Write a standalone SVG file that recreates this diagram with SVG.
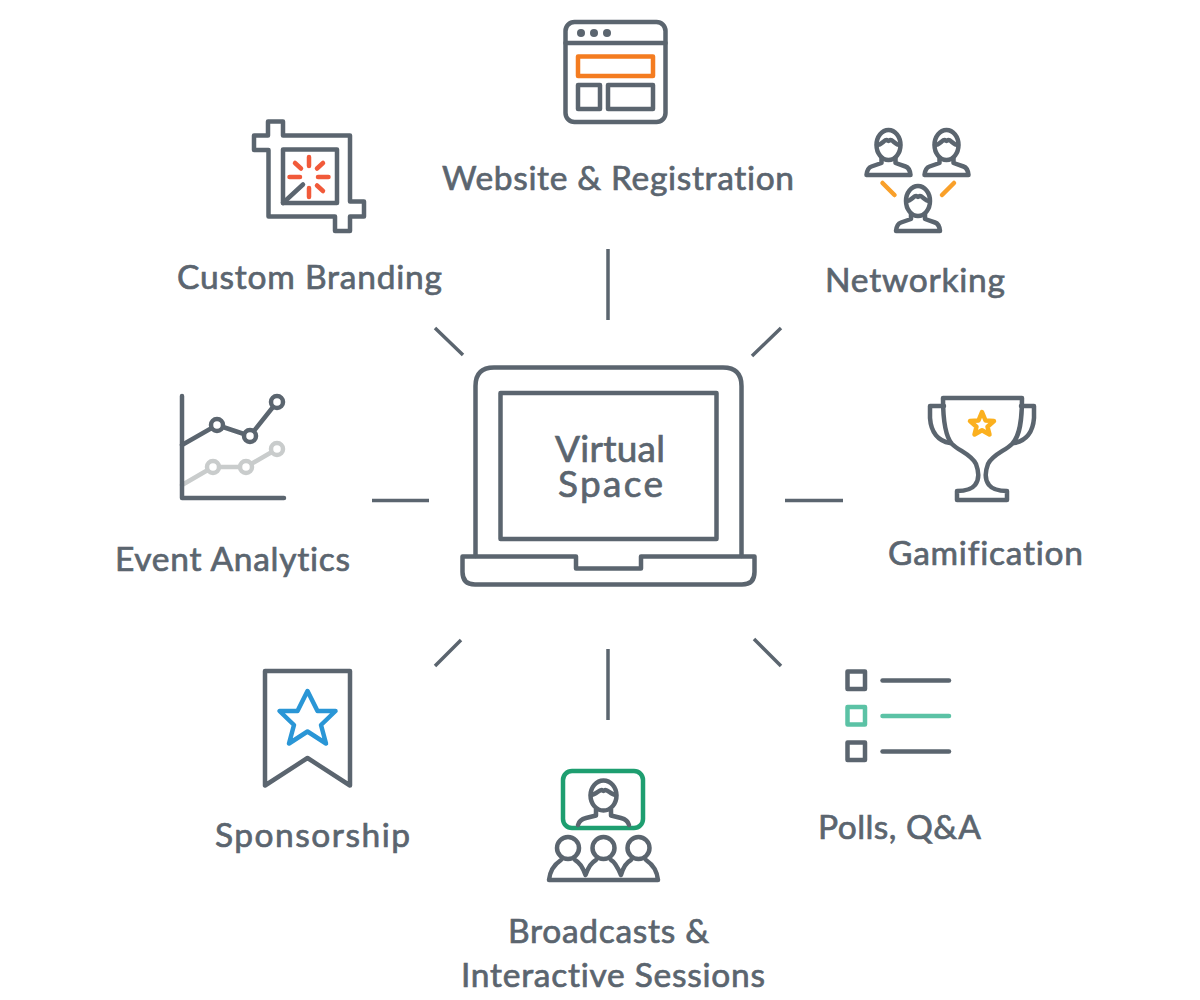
<svg xmlns="http://www.w3.org/2000/svg" width="1200" height="1000" viewBox="0 0 1200 1000">
<style>
.s{fill:none;stroke:#5b656f;stroke-width:4.5;stroke-linejoin:round;stroke-linecap:round}
.t{font-family:"Lato","Open Sans",sans-serif;font-size:33.5px;font-weight:400;fill:#5b656f;stroke:#5b656f;stroke-width:.7px;font-variant-ligatures:none}
.c{fill:none;stroke:#5b656f;stroke-width:3.5}
</style>
<defs>
<g id="person">
<ellipse cx="0" cy="0" rx="12" ry="15"/>
<path d="M-11.500 0C-7 0 -4.500 -5 -2 -5C-1 -5 -1 -4 0 -4C1 -4 1 -5 2 -5C4.500 -5 7 0 11.500 0"/>
<path d="M-7 13V18L-17 21.500C-20 22.500 -21.500 25 -22 30H22C21.500 25 20 22.500 17 21.500L7 18V13"/>
</g>
</defs>
<g id="connectors">
<path class="c" d="M608 249V320M435 328L463 355M781 328L752 356M372 500.500H429M785 500.500H843M435 666L461 640M781 666L754 639M608 649V720"/>
</g>
<g id="laptop">
<path class="s" d="M475.500 556V386Q475.500 367.500 494 367.500H723Q741.500 367.500 741.500 386V556"/>
<rect class="s" x="500.500" y="393" width="216" height="146"/>
<path class="s" d="M462.500 556.500H576V568.500H641V556.500H754.500V572Q754.500 584.500 742 584.500H475Q462.500 584.500 462.500 572Z"/>
<text class="t" style="font-size:37px"><tspan x="555" y="462" textLength="110">Virtual</tspan><tspan x="558" y="497" textLength="105">Space</tspan></text>
</g>
<g id="website">
<rect class="s" x="565.500" y="22" width="100" height="100" rx="9"/>
<path class="s" d="M565.500 43H665.500"/>
<circle cx="581" cy="33" r="4" fill="#5b656f"/><circle cx="594" cy="33" r="4" fill="#5b656f"/><circle cx="607" cy="33" r="4" fill="#5b656f"/>
<rect class="s" style="stroke:#f47c20" x="578" y="56.500" width="75" height="19.500"/>
<rect class="s" x="578" y="85" width="22" height="24"/>
<rect class="s" x="608" y="85" width="45" height="24"/>
<text class="t" x="442" y="190" textLength="352">Website &amp; Registration</text>
</g>
<g id="branding">
<path class="s" d="M268 121.500H283V135.500H350V201.500H364V216.500H350V231H335V216.500H268.500V150H254V135.500H268Z"/>
<rect class="s" x="283" y="149.500" width="54" height="53.500"/>
<path class="s" d="M283 203L303 184.500"/>
<path class="s" style="stroke:#f15a3a" d="M309 157V166M309 188V197M289.500 177H300M318 177H328.500M295 163L301 168.500M323 163L317 168.500M317 185.500L323 191"/>
<text class="t" x="177" y="289" textLength="265">Custom Branding</text>
</g>
<g id="networking">
<use class="s" href="#person" x="888.500" y="145"/>
<use class="s" href="#person" x="946.500" y="145"/>
<use class="s" href="#person" x="918" y="201"/>
<path class="s" style="stroke:#f9a02a" d="M882.500 183L894.500 195M954 183L942 195"/>
<text class="t" x="825" y="292" textLength="180">Networking</text>
</g>
<g id="gamification">
<path class="s" d="M943 398H1022C1022 420 1020 436 1012 444C1005 451 993 454 988 464C985 472 985 480 989 485C992 489 1000 491 1007 491V500H957V491C964 491 972 489 975 485C979 480 979 472 976 464C971 454 959 451 952 444C945 436 943 420 943 398Z"/>
<path class="s" d="M944 406H930V418C931 432 938 441 950 443M1021 406H1034V418C1033 432 1026 441 1014 443"/>
<polygon class="s" style="stroke:#fbb01e" points="982,412 985.500,420.500 994,421 987.500,426.700 989.500,434.500 982,430.300 974.500,434.500 976.500,426.700 970,421 978.500,420.500"/>
<text class="t" x="888" y="565" textLength="195">Gamification</text>
</g>
<g id="analytics">
<path class="s" d="M182 485L213 467H246L277 449" style="stroke:#c9cccc"/>
<circle class="s" style="stroke:#c9cccc;fill:#fff" cx="213" cy="467" r="6"/><circle class="s" style="stroke:#c9cccc;fill:#fff" cx="246" cy="467" r="6"/><circle class="s" style="stroke:#c9cccc;fill:#fff" cx="277" cy="449" r="6"/>
<path class="s" d="M182 396V498H284"/>
<path class="s" d="M182 445L217 425L250 436L277 402"/>
<circle class="s" style="fill:#fff" cx="217" cy="425" r="6"/><circle class="s" style="fill:#fff" cx="250" cy="436" r="6"/><circle class="s" style="fill:#fff" cx="277" cy="402" r="6"/>
<text class="t" x="115" y="571" textLength="235">Event Analytics</text>
</g>
<g id="sponsorship">
<path class="s" d="M265 671H350V785.500L307.500 758L265 785.500Z"/>
<polygon class="s" style="stroke:#2a96d6" points="307.500,691 317.500,711 335.500,711 321,725 326,743.500 307.500,731.500 289,743.500 294,725 279.500,711 297.500,711"/>
<text class="t" x="215" y="847" textLength="195">Sponsorship</text>
</g>
<g id="broadcasts">
<rect class="s" style="stroke:#1e9e70" x="563" y="771" width="80" height="57" rx="9"/>
<ellipse class="s" cx="603.500" cy="795.500" rx="13" ry="15"/>
<path class="s" d="M591 795C596 795 598.500 790 601.500 790C602.500 790 602.500 791 603.500 791C604.500 791 604.500 790 605.500 790C608.500 790 611 795 616 795"/>
<path class="s" d="M578 825C579 821 582 819 586 818L596 815.500V809M629 825C628 821 625 819 621 818L611 815.500V809"/>
<circle class="s" cx="568" cy="848" r="11"/><circle class="s" cx="603.500" cy="848" r="11"/><circle class="s" cx="638.500" cy="848" r="11"/>
<path class="s" d="M549 880H658C657 870 652 864 646 860M561 860C555 864 550 870 549 880M575 860C579 862 583 868 585.500 875C588 868 592 862 596 860M611 860C615 862 618 868 621 875C623 868 627 862 631 860"/>
<text class="t" x="508" y="943" textLength="201">Broadcasts &amp;</text>
<text class="t" x="461" y="987" textLength="304">Interactive Sessions</text>
</g>
<g id="polls">
<rect class="s" x="847.500" y="671.500" width="17.500" height="17.500"/>
<path class="s" d="M882.500 680.500H949"/>
<rect class="s" style="stroke:#5bc2a5" x="847.500" y="707" width="17.500" height="17.500"/>
<path class="s" style="stroke:#5bc2a5" d="M882.500 716H949"/>
<rect class="s" x="847.500" y="742.500" width="17.500" height="17.500"/>
<path class="s" d="M882.500 751.500H949"/>
<text class="t" x="818" y="839" textLength="163">Polls, Q&amp;A</text>
</g>
</svg>
